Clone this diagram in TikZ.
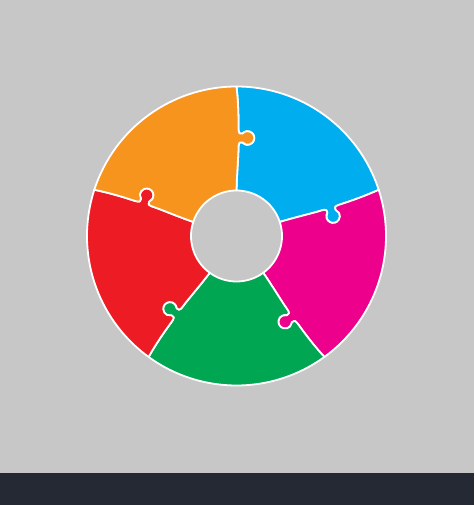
\documentclass[tikz,border=0pt]{standalone}
\usepackage{tikz}

\definecolor{pzblue}{RGB}{0,174,239}
\definecolor{pzmagenta}{RGB}{236,0,140}
\definecolor{pzgreen}{RGB}{0,166,81}
\definecolor{pzred}{RGB}{237,28,36}
\definecolor{pzorange}{RGB}{247,148,29}
\definecolor{pzback}{RGB}{199,199,199}
\definecolor{pzbar}{RGB}{37,41,52}

\begin{document}
\begin{tikzpicture}[x = 1pt, y = 1pt,
                        piece/.style = {draw = white, line width = 1.8pt, line join = round},
                        edgeout/.style = {insert path = {
                          .. controls ([rotate=#1]65,-0.5) and ([rotate=#1]80,-2) .. ([rotate=#1]89,-2)
                          .. controls ([rotate=#1]93,-2) and ([rotate=#1]95,-3.5) .. ([rotate=#1]93.63,-5.79)
                          arc [start angle = #1+130, end angle = #1+410, radius = 6.8]
                          .. controls ([rotate=#1]101,-3.5) and ([rotate=#1]103,-2) .. ([rotate=#1]107,-2)
                          .. controls ([rotate=#1]117,-2) and ([rotate=#1]132,-2) .. ([rotate=#1]149.5,0)}},
                        edgein/.style = {insert path = {
                          .. controls ([rotate=#1]132,-2) and ([rotate=#1]117,-2) .. ([rotate=#1]107,-2)
                          .. controls ([rotate=#1]103,-2) and ([rotate=#1]101,-3.5) .. ([rotate=#1]102.37,-5.79)
                          arc [start angle = #1+410, end angle = #1+130, radius = 6.8]
                          .. controls ([rotate=#1]95,-3.5) and ([rotate=#1]93,-2) .. ([rotate=#1]89,-2)
                          .. controls ([rotate=#1]80,-2) and ([rotate=#1]65,-0.5) .. ([rotate=#1]45.5,0)}}]
    % background
    \fill [pzback] (-236.5,-269) rectangle (237.5,236);
    \fill [pzbar] (-236.5,-269) rectangle (237.5,-237);
    % five pieces of the ring
    \foreach \a/\b/\col in {90/18/pzblue, 18/-54/pzmagenta, -54/-126/pzgreen,
                            -126/-198/pzred, -198/-270/pzorange}
      \filldraw [piece, fill = \col] ([rotate=\a]45.5,0) [edgeout=\a]
        arc [start angle = \a, end angle = \b, radius = 149.5] [edgein=\b]
        arc [start angle = \b, end angle = \a, radius = 45.5] -- cycle;
  \end{tikzpicture}
\end{document}
